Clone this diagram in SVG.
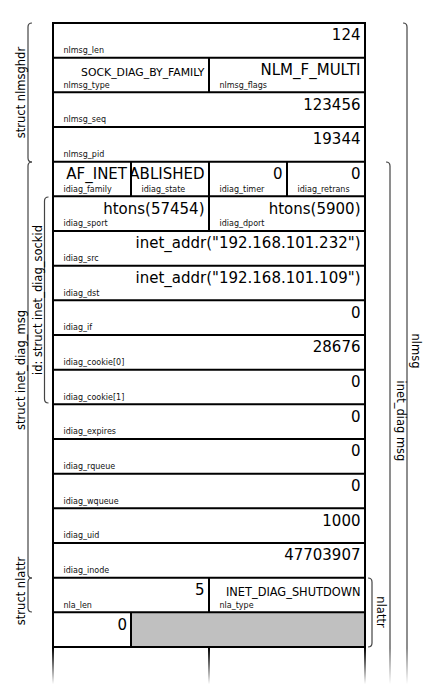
<svg xmlns="http://www.w3.org/2000/svg" width="435" height="697" viewBox="0 0 435 697">
<style>
.v{font-family:"DejaVu Sans",sans-serif;font-size:15px;fill:#000;text-anchor:end}
.l{font-family:"DejaVu Sans",sans-serif;font-size:8px;fill:#111}
.r{font-family:"DejaVu Sans",sans-serif;font-size:11.5px;fill:#000;text-anchor:middle}
.grid{stroke:#000;stroke-width:2;fill:none}
.br{stroke:#444;stroke-width:1.2;fill:none}
</style>
<defs>
<clipPath id="clipState"><rect x="132" y="162.7" width="76" height="33"/></clipPath>
<linearGradient id="fade" x1="0" y1="0" x2="0" y2="1">
<stop offset="0" stop-color="#fff" stop-opacity="0"/>
<stop offset="1" stop-color="#fff" stop-opacity="1"/>
</linearGradient>
</defs>
<rect x="0" y="0" width="435" height="697" fill="#fff"/>

<g id="table-grid">
<rect x="131" y="612.333" width="234" height="34.667" fill="#c0c0c0"/>
<path class="grid" d="M53 23H365V647H53Z
M53 57.667H365 M53 92.333H365 M53 127H365 M53 161.667H365 M53 196.333H365 M53 231H365 M53 265.667H365 M53 300.333H365 M53 335H365 M53 369.667H365 M53 404.333H365 M53 439H365 M53 473.667H365 M53 508.333H365 M53 543H365 M53 577.667H365 M53 612.333H365
M209 57.667V92.333 M131 161.667V196.333 M209 161.667V196.333 M287 161.667V196.333 M209 196.333V231 M209 577.667V612.333 M131 612.333V647
M53 647V688 M209 647V688 M365 647V688"/>
</g>

<g id="nlmsg_len"><text class="v" x="360.5" y="40.2">124</text><text class="l" x="63.5" y="53">nlmsg_len</text></g>
<g id="nlmsg_type"><text class="v" x="204.5" y="76" style="font-size:10.85px">SOCK_DIAG_BY_FAMILY</text><text class="l" x="63.5" y="87.7">nlmsg_type</text></g>
<g id="nlmsg_flags"><text class="v" x="360.5" y="74.9">NLM_F_MULTI</text><text class="l" x="219.5" y="87.7">nlmsg_flags</text></g>
<g id="nlmsg_seq"><text class="v" x="360.5" y="109.5">123456</text><text class="l" x="63.5" y="122.3">nlmsg_seq</text></g>
<g id="nlmsg_pid"><text class="v" x="360.5" y="144.2">19344</text><text class="l" x="63.5" y="157">nlmsg_pid</text></g>
<g id="idiag_family"><text class="v" x="127" y="178.9">AF_INET</text><text class="l" x="63.5" y="191.7">idiag_family</text></g>
<g id="idiag_state"><text class="v" x="204.5" y="178.9" clip-path="url(#clipState)">ESTABLISHED</text><text class="l" x="141.5" y="191.7">idiag_state</text></g>
<g id="idiag_timer"><text class="v" x="282.5" y="178.9">0</text><text class="l" x="219.5" y="191.7">idiag_timer</text></g>
<g id="idiag_retrans"><text class="v" x="360.5" y="178.9">0</text><text class="l" x="297.5" y="191.7">idiag_retrans</text></g>
<g id="idiag_sport"><text class="v" x="204.5" y="213.5">htons(57454)</text><text class="l" x="63.5" y="226.3">idiag_sport</text></g>
<g id="idiag_dport"><text class="v" x="360.5" y="213.5">htons(5900)</text><text class="l" x="219.5" y="226.3">idiag_dport</text></g>
<g id="idiag_src"><text class="v" x="360.5" y="248.2">inet_addr("192.168.101.232")</text><text class="l" x="63.5" y="261">idiag_src</text></g>
<g id="idiag_dst"><text class="v" x="360.5" y="282.9">inet_addr("192.168.101.109")</text><text class="l" x="63.5" y="295.7">idiag_dst</text></g>
<g id="idiag_if"><text class="v" x="360.5" y="317.5">0</text><text class="l" x="63.5" y="330.3">idiag_if</text></g>
<g id="idiag_cookie0"><text class="v" x="360.5" y="352.2">28676</text><text class="l" x="63.5" y="365">idiag_cookie[0]</text></g>
<g id="idiag_cookie1"><text class="v" x="360.5" y="386.9">0</text><text class="l" x="63.5" y="399.7">idiag_cookie[1]</text></g>
<g id="idiag_expires"><text class="v" x="360.5" y="421.5">0</text><text class="l" x="63.5" y="434.3">idiag_expires</text></g>
<g id="idiag_rqueue"><text class="v" x="360.5" y="456.2">0</text><text class="l" x="63.5" y="469">idiag_rqueue</text></g>
<g id="idiag_wqueue"><text class="v" x="360.5" y="490.9">0</text><text class="l" x="63.5" y="503.7">idiag_wqueue</text></g>
<g id="idiag_uid"><text class="v" x="360.5" y="525.5">1000</text><text class="l" x="63.5" y="538.3">idiag_uid</text></g>
<g id="idiag_inode"><text class="v" x="360.5" y="560.2">47703907</text><text class="l" x="63.5" y="573">idiag_inode</text></g>
<g id="nla_len"><text class="v" x="204.5" y="594.9">5</text><text class="l" x="63.5" y="607.7">nla_len</text></g>
<g id="nla_type"><text class="v" x="360.5" y="595.5" style="font-size:11.4px">INET_DIAG_SHUTDOWN</text><text class="l" x="219.5" y="607.7">nla_type</text></g>
<g id="padding"><text class="v" x="127" y="629.5">0</text></g>

<g id="brackets">
<path class="br" d="M32 23Q28 23 28 27V158Q28 162 32 162"/>
<path class="br" d="M32 162Q28 162 28 166V574Q28 578 32 578"/>
<path class="br" d="M32 578Q28 578 28 582V608Q28 612 32 612"/>
<path class="br" d="M48.5 197Q44.5 197 44.5 201V399Q44.5 403 48.5 403"/>
<path class="br" d="M368 578Q372 578 372 582V643Q372 647 368 647"/>
<path class="br" d="M386 162Q390 162 390 166V688"/>
<path class="br" d="M403 23Q407 23 407 27V688"/>
</g>

<g id="labels">
<text class="r" transform="translate(25,92.5) rotate(-90)">struct nlmsghdr</text>
<text class="r" transform="translate(25,370) rotate(-90)">struct inet_diag_msg</text>
<text class="r" transform="translate(41.5,300) rotate(-90)">id: struct inet_diag_sockid</text>
<text class="r" transform="translate(25,591) rotate(-90)">struct nlattr</text>
<text class="r" transform="translate(412,351) rotate(90)">nlmsg</text>
<text class="r" transform="translate(396.5,421) rotate(90)">inet_diag msg</text>
<text class="r" transform="translate(376.5,612) rotate(90)">nlattr</text>
</g>

<rect x="0" y="648.2" width="435" height="36" fill="url(#fade)"/>
<rect x="0" y="684" width="435" height="13" fill="#fff"/>
</svg>
